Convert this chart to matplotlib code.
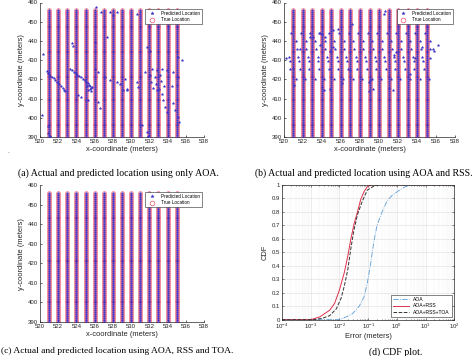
import numpy as np
import matplotlib
matplotlib.use("Agg")
import matplotlib.pyplot as plt
from matplotlib.ticker import LogLocator, LogFormatterSciNotation, NullFormatter

plt.rcParams['font.family'] = ['Liberation Sans', 'DejaVu Sans']

# ---- data ----
x_cols = [521, 522, 523, 524, 525, 526, 527, 528, 529, 530, 531, 532, 533, 534, 535]
y_true = [390, 391, 392, 393, 394, 395, 396, 397, 398, 399, 400, 401, 402, 403, 404,
          405, 406, 407, 408, 409, 410, 411, 412, 413, 414, 415, 416, 417, 418, 419,
          420, 421, 422, 423, 424, 425, 426, 427, 428, 429, 430, 431, 432, 433, 434,
          435, 436, 437, 438, 439, 440, 441, 442, 443, 444, 445, 446, 447, 448, 449,
          450, 451, 452, 453, 454, 455, 456]

# AOA only: predictions that left the track
aoa_out_x = [520.3, 520.2, 520.9, 520.9, 521.1,
             520.8, 520.9, 521.0, 521.1, 521.3, 521.5, 521.7, 521.9, 522.1, 522.3, 522.5, 522.6, 522.7,
             523.3, 523.5, 523.7, 523.9, 524.1, 524.3, 524.5, 524.7, 524.9, 525.1, 525.3, 525.4,
             525.5, 525.6, 525.5, 525.3, 525.6, 525.7, 525.2, 523.5, 523.6,
             526.0, 526.4, 527.1, 527.65, 528.4, 528.75, 529.5,
             524.2, 524.5, 525.3, 526.4, 526.6, 526.2, 526.7, 527.65, 528.0, 528.4, 526.0, 527.3,
             530.6, 531.7, 532.1, 531.5, 529.3, 529.5, 530.6, 530.8, 529.1, 531.2, 531.7, 531.9,
             532.3, 532.1, 532.15, 532.4, 532.8, 532.8, 532.6, 532.7, 533.1,
             533.35, 533.2, 533.3, 533.6, 533.9, 535.2, 535.0,
             533.35, 533.5, 533.7, 533.9, 534.6, 534.8, 535.1, 535.3,
             535.2, 535.6, 534.6, 534.5]
aoa_out_y = [433.0, 401.4, 395.7, 392.0, 390.5,
             424.5, 423.5, 422.8, 422.0, 421.3, 420.5, 419.6, 418.6, 417.5, 416.5, 415.5, 414.5, 414.0,
             425.6, 424.8, 424.0, 423.2, 422.5, 421.8, 421.0, 420.3, 419.5, 418.7, 418.0, 417.2,
             416.5, 415.7, 415.0, 414.5, 414.2, 416.0, 416.8, 438.7, 437.5,
             425.6, 423.8, 421.2, 419.5, 418.6, 417.8, 414.4,
             411.8, 410.9, 409.0, 408.3, 405.0, 457.5, 455.0, 455.0, 453.7, 455.0, 439.4, 442.0,
             454.0, 436.8, 435.0, 423.8, 420.4, 415.2, 418.6, 416.0, 414.4, 396.2, 392.8, 390.5,
             425.6, 422.1, 418.6, 415.7, 414.4, 424.7, 421.2, 417.8, 415.2,
             425.6, 422.1, 419.0, 416.6, 424.7, 421.2, 417.0,
             412.6, 409.2, 405.7, 403.1, 407.5, 404.0, 400.5, 397.9,
             431.6, 429.9, 423.8, 416.7]

# AOA + RSS: wobble repeated on every track, plus scattered outliers
rss_wob_dx = [-0.45, -0.35, 0.35, 0.3, -0.3, 0.25, -0.2]
rss_wob_y = [431.5, 429.5, 436.0, 440.0, 425.5, 420.0, 444.0]
rss_out_x = [519.8, 520.2, 521.0, 521.1, 521.7, 522.8, 523.1, 523.7, 524.0, 524.3,
             523.8, 524.0, 524.2, 524.9, 525.2, 525.7, 526.1, 525.2, 524.9, 527.2,
             527.0, 528.9, 529.1, 528.9, 529.4, 530.5, 530.6, 531.0, 531.5, 531.8,
             531.6, 533.3, 533.8, 534.5, 535.7, 535.8, 536.2, 535.3]
rss_out_y = [433.0, 431.0, 425.7, 417.0, 436.0, 442.0, 442.0, 444.0, 443.6, 442.0,
             438.0, 416.0, 414.5, 415.0, 445.8, 446.0, 418.0, 437.0, 434.5, 449.0,
             425.0, 418.7, 419.5, 414.0, 414.8, 454.0, 455.6, 415.4, 414.3, 434.0,
             432.5, 423.0, 431.0, 436.8, 436.0, 435.0, 437.7, 431.0]

# CDF of the error (meters)
err_aoa = [0.0001, 0.01, 0.017, 0.0288, 0.049, 0.0724, 0.0933, 0.123, 0.158, 0.204,
           0.309, 0.457, 0.676, 1.15, 1.95, 3.16, 100]
cdf_aoa = [0, 0, 0.02, 0.045, 0.10, 0.17, 0.27, 0.42, 0.58, 0.70,
           0.80, 0.88, 0.92, 0.955, 0.985, 1.0, 1.0]
err_rss = [0.0001, 0.001, 0.00204, 0.00457, 0.00676, 0.0100, 0.0148, 0.0195, 0.0251,
           0.0324, 0.0427, 0.0550, 0.0724, 0.0933, 0.138, 100]
cdf_rss = [0, 0, 0.02, 0.07, 0.12, 0.22, 0.35, 0.47, 0.60, 0.71, 0.80, 0.89, 0.95, 0.985, 1.0, 1.0]
err_toa = [0.0001, 0.00126, 0.00251, 0.00457, 0.00776, 0.0115, 0.0148, 0.0195, 0.0251,
           0.0324, 0.0427, 0.0631, 0.0933, 0.158, 0.234, 100]
cdf_toa = [0, 0, 0.01, 0.03, 0.08, 0.16, 0.25, 0.37, 0.53, 0.67, 0.78, 0.88, 0.96, 0.99, 1.0, 1.0]

# ---- figure ----
W, H = 474, 356
fig = plt.figure(figsize=(W / 100, H / 100), dpi=100)

def rect(l, t, r, b):
    return [l / W, 1 - b / H, (r - l) / W, (b - t) / H]

axc = '#262626'
tick_fs = 4.3
lab_fs = 5.4

gx, gy = np.meshgrid(x_cols, y_true)
gx = gx.ravel()
gy = gy.ravel()

def loc_axes(r, px, py):
    ax = fig.add_axes(r)
    ax.plot(gx, gy, 'o', ms=2.6, mfc='none', mec='#f0506a', mew=0.5, label='True Location', zorder=2)
    ax.plot(px, py, '*', ms=1.9, color='#3a34c8', mew=0.25, label='Predicted Location', zorder=3)
    ax.set_xlim(520, 538)
    ax.set_ylim(390, 460)
    ax.set_xticks(range(520, 539, 2))
    ax.set_yticks(range(390, 461, 10))
    for s in ['top', 'right']:
        ax.spines[s].set_visible(False)
    for s in ['left', 'bottom']:
        ax.spines[s].set_color(axc)
        ax.spines[s].set_linewidth(0.5)
    ax.tick_params(direction='in', length=1.5, width=0.5, labelsize=tick_fs, colors=axc, pad=1.5)
    ax.set_xlabel('x-coordinate (meters)', fontsize=lab_fs, color=axc, labelpad=1.5)
    ax.set_ylabel('y-coordinate (meters)', fontsize=lab_fs, color=axc, labelpad=2)
    h, l = ax.get_legend_handles_labels()
    leg = ax.legend(h[::-1], l[::-1], loc='upper right', fontsize=3.3, frameon=True, fancybox=False,
                    edgecolor=axc, framealpha=1, borderpad=0.4, handlelength=2.2, labelspacing=0.4,
                    bbox_to_anchor=(1.0, 0.97), markerscale=1.3)
    leg.get_frame().set_linewidth(0.4)
    return ax

# (a) AOA only
pa_x = list(gx) + aoa_out_x
pa_y = list(gy) + aoa_out_y
loc_axes(rect(40, 2.5, 204, 137), pa_x, pa_y)

# (b) AOA + RSS
pb_x = list(gx) + rss_out_x
pb_y = list(gy) + rss_out_y
for c in x_cols:
    for dx, yy in zip(rss_wob_dx, rss_wob_y):
        pb_x.append(c + dx)
        pb_y.append(yy)
loc_axes(rect(283.7, 2.5, 455.3, 137), pb_x, pb_y)

# (c) AOA + RSS + TOA
loc_axes(rect(40, 185.3, 204, 322), gx, gy)

# (d) CDF
ax = fig.add_axes(rect(282, 184.7, 454.3, 319.7))
ax.semilogx(err_aoa, cdf_aoa, '-.', color='#5b9bd5', lw=0.6, label='AOA')
ax.semilogx(err_rss, cdf_rss, '-', color='#e0304a', lw=0.7, label='AOA+RSS')
ax.semilogx(err_toa, cdf_toa, '--', color='#333333', lw=0.7, label='AOA+RSS+TOA')
ax.set_xlim(1e-4, 1e2)
ax.set_ylim(0, 1)
ax.xaxis.set_major_locator(LogLocator(base=10, numticks=10))
ax.xaxis.set_major_formatter(LogFormatterSciNotation())
ax.xaxis.set_minor_locator(LogLocator(base=10, subs=np.arange(2, 10), numticks=100))
ax.xaxis.set_minor_formatter(NullFormatter())
ax.set_yticks(np.arange(0, 1.01, 0.1))
ax.set_yticklabels(['0', '0.1', '0.2', '0.3', '0.4', '0.5', '0.6', '0.7', '0.8', '0.9', '1'])
ax.grid(True, which='major', color='#dcdcdc', lw=0.4)
ax.grid(True, which='minor', color='#ececec', lw=0.3)
for s in ax.spines.values():
    s.set_color(axc)
    s.set_linewidth(0.5)
ax.tick_params(which='both', direction='in', top=True, right=True, width=0.4, colors=axc)
ax.tick_params(which='major', length=1.5, labelsize=tick_fs, pad=1.5)
ax.tick_params(which='minor', length=0.8)
ax.set_xlabel('Error (meters)', fontsize=lab_fs, color=axc, labelpad=1.5)
ax.set_ylabel('CDF', fontsize=lab_fs, color=axc, labelpad=2)
leg = ax.legend(loc='lower right', fontsize=3.6, frameon=True, fancybox=False, edgecolor=axc,
                framealpha=1, borderpad=0.4, handlelength=3.2, labelspacing=0.35)
leg.get_frame().set_linewidth(0.4)

# captions
cap = dict(family=['Liberation Serif', 'DejaVu Serif'], va='center')
fig.text(18 / W, 1 - 173 / H, '(a) Actual and predicted location using only AOA.', ha='left', fontsize=7.1, **cap)
fig.text(255 / W, 1 - 173 / H, '(b) Actual and predicted location using AOA and RSS.', ha='left', fontsize=7.1, **cap)
fig.text(1 / W, 1 - 351 / H, '(c) Actual and predicted location using AOA, RSS and TOA.', ha='left', fontsize=6.8, **cap)
fig.text(369 / W, 1 - 352 / H, '(d) CDF plot.', ha='left', fontsize=7.1, **cap)
fig.text(7 / W, 1 - 153 / H, '.', fontsize=5, color='#555555')

fig.savefig('out.png', dpi=100)
